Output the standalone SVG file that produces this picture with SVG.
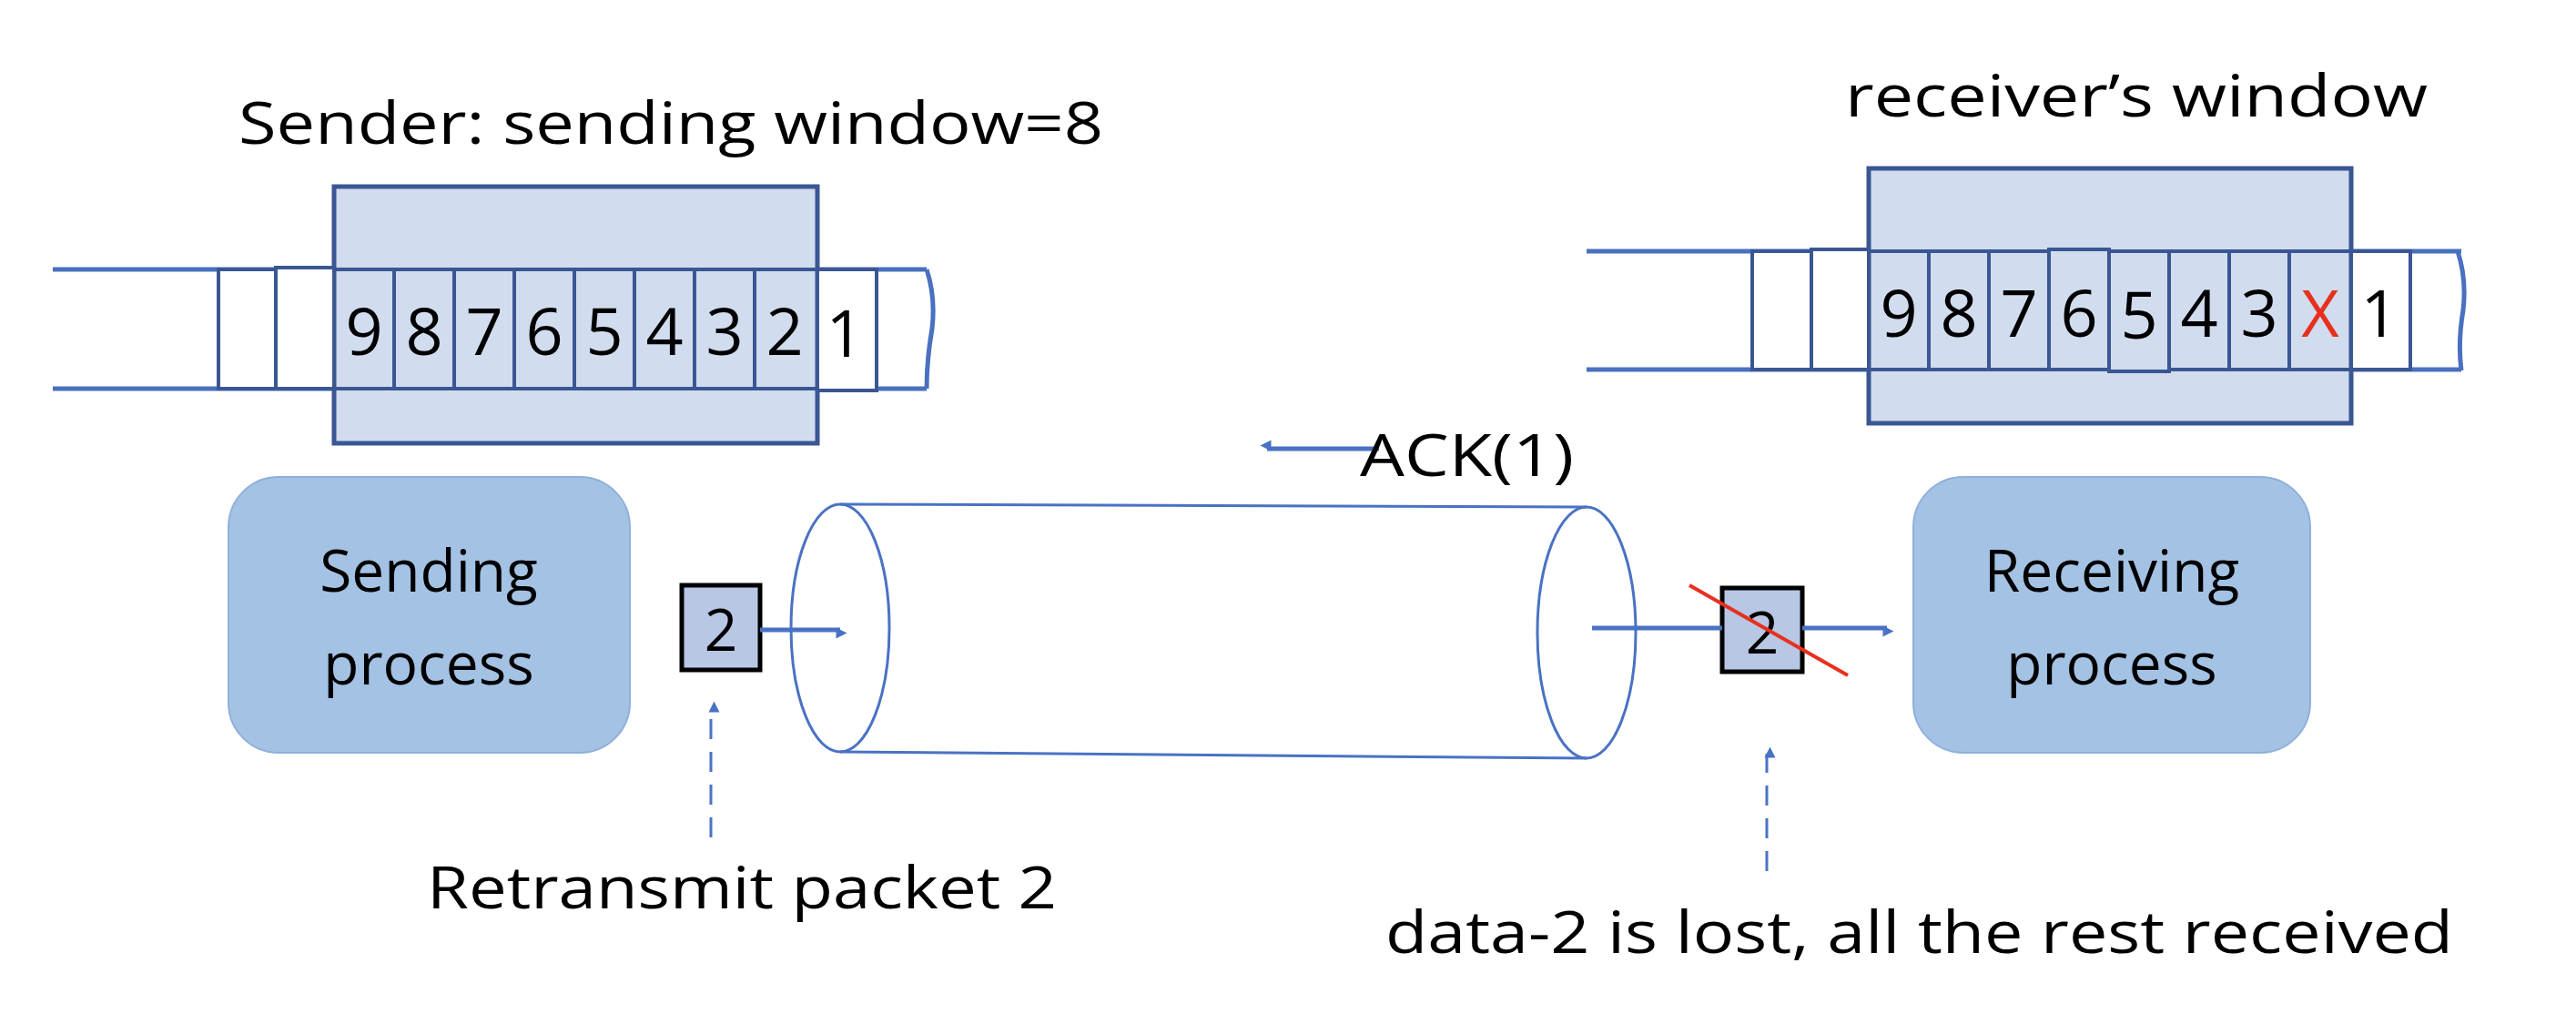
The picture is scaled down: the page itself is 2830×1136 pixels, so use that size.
<svg xmlns="http://www.w3.org/2000/svg" width="2830" height="1136" viewBox="0 0 2830 1136">
<style>
text{font-family:"Open Sans","Liberation Sans",sans-serif;fill:#000}
.lbl{font-size:64px}
.num{font-size:72px;text-anchor:middle}
.win{fill:#d1dcee;stroke:#3a5794;stroke-width:5}
.cell{fill:none;stroke:#3a5794;stroke-width:4}
.wcell{fill:#fff;stroke:#3a5794;stroke-width:4}
.tape{stroke:#4a70c0;stroke-width:5;fill:none}
.proc{fill:#a4c2e4;stroke:#8fb0da;stroke-width:2}
.pkt{fill:#b8c7e4;stroke:#000;stroke-width:5}
.cyl{fill:none;stroke:#4a72c4;stroke-width:3}
.arr{stroke:#4a72c4;stroke-width:5;fill:none}
.dash{stroke:#4a72c4;stroke-width:3;fill:none;stroke-dasharray:22 14}
</style>
<defs>
<marker id="ah" viewBox="0 0 10 10" refX="9" refY="5" markerWidth="5" markerHeight="6" orient="auto" markerUnits="userSpaceOnUse" style="overflow:visible">
<path d="M0,0L10,5L0,10z" fill="#4a72c4" transform="scale(2.4)"/>
</marker>
</defs>
<g id="sender-window">
<text class="lbl" x="262" y="158" textLength="950" lengthAdjust="spacingAndGlyphs">Sender: sending window=8</text>
<path class="tape" d="M58,296H1018M58,427H1018M1018,296q10,30 6,65q-6,35 -6,66"/>
<rect class="win" x="367" y="205" width="531" height="282"/>
<rect class="wcell" x="240" y="296" width="63" height="131"/>
<rect class="wcell" x="303" y="294" width="64" height="133"/>
<rect class="wcell" x="898" y="296" width="65" height="133"/>
<g class="cell">
<rect x="367" y="296" width="66" height="131"/><rect x="433" y="296" width="66" height="131"/><rect x="499" y="296" width="66" height="131"/><rect x="565" y="296" width="66" height="131"/><rect x="631" y="296" width="66" height="131"/><rect x="697" y="296" width="66" height="131"/><rect x="763" y="296" width="66" height="131"/><rect x="829" y="296" width="69" height="131"/>
</g>
<g class="num">
<text x="400" y="390">9</text><text x="466" y="390">8</text><text x="532" y="390">7</text><text x="598" y="390">6</text><text x="664" y="390">5</text><text x="730" y="390">4</text><text x="796" y="390">3</text><text x="862" y="390">2</text><text x="928" y="392">1</text>
</g>
</g>
<g id="receiver-window">
<text class="lbl" x="2027" y="128" textLength="640" lengthAdjust="spacingAndGlyphs">receiver’s window</text>
<path class="tape" d="M1743,276H2704M1743,406H2704M2700,276q10,30 6,65q-6,35 -2,66"/>
<rect class="win" x="2053" y="185" width="530" height="280"/>
<rect class="wcell" x="1925" y="276" width="65" height="130"/>
<rect class="wcell" x="1990" y="274" width="63" height="132"/>
<rect class="wcell" x="2583" y="276" width="65" height="130"/>
<g class="cell">
<rect x="2053" y="276" width="66" height="130"/><rect x="2119" y="276" width="66" height="130"/><rect x="2185" y="276" width="66" height="130"/><rect x="2251" y="274" width="66" height="132"/><rect x="2317" y="276" width="66" height="132"/><rect x="2383" y="276" width="66" height="130"/><rect x="2449" y="276" width="66" height="130"/><rect x="2515" y="276" width="68" height="130"/>
</g>
<g class="num">
<text x="2086" y="370">9</text><text x="2152" y="370">8</text><text x="2218" y="370">7</text><text x="2284" y="370">6</text><text x="2350" y="372">5</text><text x="2416" y="370">4</text><text x="2482" y="370">3</text><text x="2549" y="370" style="fill:#e8301e">X</text><text x="2614" y="370">1</text>
</g>
</g>
<g id="sending-process">
<rect class="proc" x="251" y="524" width="441" height="303" rx="55"/>
<text class="lbl" x="471" y="650" text-anchor="middle">Sending</text>
<text class="lbl" x="471" y="752" text-anchor="middle">process</text>
</g>
<g id="receiving-process">
<rect class="proc" x="2102" y="524" width="436" height="303" rx="55"/>
<text class="lbl" x="2320" y="650" text-anchor="middle">Receiving</text>
<text class="lbl" x="2320" y="752" text-anchor="middle">process</text>
</g>
<g id="channel">
<ellipse class="cyl" cx="923" cy="690" rx="54" ry="136"/>
<ellipse class="cyl" cx="1743" cy="695" rx="54" ry="138"/>
<path class="cyl" d="M923,554L1743,557M923,826L1743,833"/>
</g>
<g id="packet-left">
<rect class="pkt" x="749" y="643" width="86" height="93"/>
<text class="num" x="792" y="715" style="font-size:64px">2</text>
</g>
<g id="packet-right">
<rect class="pkt" x="1892" y="646" width="88" height="92"/>
<text class="num" x="1936" y="718" style="font-size:64px">2</text>
<line x1="1856" y1="643" x2="2030" y2="742" stroke="#e8301e" stroke-width="4"/>
</g>
<g id="connectors">
<line class="arr" x1="835" y1="692" x2="923" y2="692" marker-end="url(#ah)"/>
<line class="arr" x1="1749" y1="690" x2="1892" y2="690"/>
<line class="arr" x1="1980" y1="690" x2="2073" y2="690" marker-end="url(#ah)"/>
<line class="arr" x1="1515" y1="493" x2="1392" y2="493" marker-end="url(#ah)"/>
<line class="dash" x1="781" y1="920" x2="781" y2="778" marker-end="url(#ah)"/>
<line class="dash" x1="1941" y1="957" x2="1941" y2="828" marker-end="url(#ah)"/>
</g>
<g id="labels">
<text class="lbl" x="1494" y="523" textLength="235" lengthAdjust="spacingAndGlyphs">ACK(1)</text>
<text class="lbl" x="469" y="998" textLength="692" lengthAdjust="spacingAndGlyphs">Retransmit packet 2</text>
<text class="lbl" x="1522" y="1047" textLength="1173" lengthAdjust="spacingAndGlyphs">data-2 is lost, all the rest received</text>
</g>
</svg>
